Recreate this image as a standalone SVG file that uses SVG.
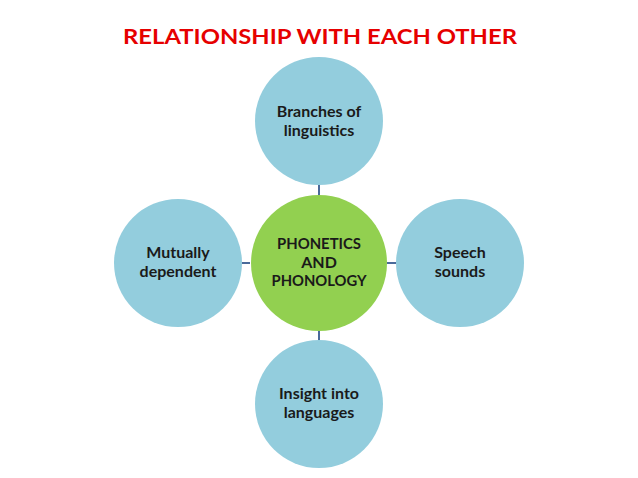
<svg xmlns="http://www.w3.org/2000/svg" width="638" height="478" viewBox="0 0 638 478">
<style>
.title{font-family:Lato,"Open Sans","Liberation Sans",sans-serif;font-weight:bold;font-size:21px;fill:#E60000}
.lbl{font-family:Lato,"Open Sans","Liberation Sans",sans-serif;font-weight:bold;font-size:16px;fill:#1a1a1a;text-anchor:middle}
.blue{fill:#93CDDD}
.green{fill:#92D050}
.conn line{stroke:#4A6A9A;stroke-width:2}
</style>
<rect width="638" height="478" fill="#ffffff"/>
<text class="title" x="123" y="44" textLength="394" lengthAdjust="spacingAndGlyphs">RELATIONSHIP WITH EACH OTHER</text>
<g id="connectors" class="conn">
<line x1="319" y1="185" x2="319" y2="195"/>
<line x1="319" y1="330" x2="319" y2="340"/>
<line x1="242" y1="263" x2="250" y2="263"/>
<line x1="387" y1="263" x2="396" y2="263"/>
</g>
<g id="center">
<circle class="green" cx="319" cy="263" r="68"/>
<text class="lbl" x="319" y="249" textLength="84" lengthAdjust="spacingAndGlyphs">PHONETICS</text>
<text class="lbl" x="319" y="268">AND</text>
<text class="lbl" x="319" y="286" textLength="95" lengthAdjust="spacingAndGlyphs">PHONOLOGY</text>
</g>
<g id="top">
<circle class="blue" cx="319" cy="121" r="64"/>
<text class="lbl" x="319" y="117">Branches of</text>
<text class="lbl" x="319" y="136">linguistics</text>
</g>
<g id="left">
<circle class="blue" cx="178" cy="263" r="64"/>
<text class="lbl" x="178" y="258">Mutually</text>
<text class="lbl" x="178" y="277">dependent</text>
</g>
<g id="right">
<circle class="blue" cx="460" cy="263" r="64"/>
<text class="lbl" x="460" y="258">Speech</text>
<text class="lbl" x="460" y="277">sounds</text>
</g>
<g id="bottom">
<circle class="blue" cx="319" cy="404" r="64"/>
<text class="lbl" x="319" y="399">Insight into</text>
<text class="lbl" x="319" y="418">languages</text>
</g>
</svg>
